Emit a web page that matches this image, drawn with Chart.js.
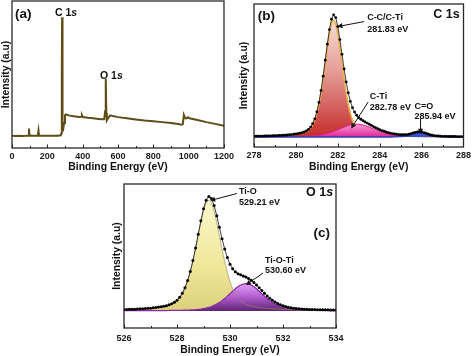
<!DOCTYPE html>
<html><head><meta charset="utf-8">
<script src="https://cdn.jsdelivr.net/npm/chart.js@4.4.0/dist/chart.umd.min.js"></script>
<style>
html,body{margin:0;padding:0;background:#fff;width:474px;height:356px;overflow:hidden;}
canvas{position:absolute;}
</style></head><body>
<canvas id="ca" width="237" height="173" style="left:0;top:0"></canvas>
<canvas id="cb" width="237" height="173" style="left:237px;top:0"></canvas>
<canvas id="cc" width="252" height="184" style="left:100px;top:172px"></canvas>
<script>
// ---------- (a) survey spectrum ----------
const SURVEY_BE = [0,20,40,60,80,92,96,99,110,130,146,150,153,170,200,230,260,276,280,282,283.5,285,287,290,295,300,306,320,350,380,392,396,400,430,460,490,515,522,527,529.5,532,534,537,545,556,570,600,650,700,750,800,850,900,940,960,967,973,978,985,991,997,1004,1050,1100,1150,1200];
const SURVEY_I = [8.3,8.2,8.3,8.2,8.3,8.4,13.2,8.6,8.4,8.3,8.4,11.8,8.5,8.3,8.3,8.3,8.4,8.6,10,50,89,60,14,13,17,22.3,22.8,22.2,21.6,21.1,21.3,22.2,21.1,20.6,20.2,19.8,19.5,19.5,25,47,47,24,18.8,20.5,22.2,21.7,21.0,20.2,19.4,18.7,18.2,17.6,17.0,16.3,15.8,16.3,22.4,20.8,20.1,20.5,20.9,20.2,19.0,17.6,16.4,15.2];
const SURVEY_TICKS = [0,200,400,600,800,1000,1200];

// ---------- (b) C 1s ----------
const C1S_BE = [278.0,278.1,278.2,278.3,278.4,278.5,278.6,278.7,278.8,278.9,279.0,279.1,279.2,279.3,279.4,279.5,279.6,279.7,279.8,279.9,280.0,280.1,280.2,280.3,280.4,280.5,280.6,280.7,280.8,280.9,281.0,281.1,281.2,281.3,281.4,281.5,281.6,281.7,281.8,281.9,282.0,282.1,282.2,282.3,282.4,282.5,282.6,282.7,282.8,282.9,283.0,283.1,283.2,283.3,283.4,283.5,283.6,283.7,283.8,283.9,284.0,284.1,284.2,284.3,284.4,284.5,284.6,284.7,284.8,284.9,285.0,285.1,285.2,285.3,285.4,285.5,285.6,285.7,285.8,285.9,286.0,286.1,286.2,286.3,286.4,286.5,286.6,286.7,286.8,286.9,287.0,287.1,287.2,287.3,287.4,287.5,287.6,287.7,287.8,287.9,288.0];
const C1S_RAW = [7.5,7.6,7.6,7.6,7.6,7.7,7.7,7.8,7.8,7.9,
 7.9,8.0,8.1,8.1,8.2,8.3,8.4,8.6,8.7,8.9,
 9.1,9.3,9.6,10.0,10.5,11.2,12.3,13.9,16.3,19.7,
 24.6,31.2,39.5,49.5,60.7,71.9,82.1,89.4,92.4,90.5,
 84.2,75.1,64.8,54.6,45.5,37.9,31.9,27.5,24.4,22.2,
 20.6,19.4,18.4,17.5,16.7,15.9,15.1,14.3,13.5,12.8,
 12.1,11.5,11.0,10.5,10.1,9.7,9.4,9.1,8.9,8.7,
 8.6,8.6,8.6,8.7,9.0,9.4,9.8,10.2,10.6,10.7,
 10.5,10.1,9.6,9.1,8.6,8.2,8.0,7.8,7.7,7.6,
 7.5,7.5,7.5,7.4,7.4,7.4,7.4,7.3,7.3,7.3,7.3];
const C1S_CC = [7.4,7.4,7.5,7.5,7.5,7.5,7.6,7.6,7.7,7.7,
 7.8,7.8,7.9,7.9,8.0,8.1,8.2,8.3,8.4,8.6,
 8.8,9.0,9.2,9.6,10.0,10.7,11.7,13.2,15.5,18.8,
 23.5,29.9,38.0,47.7,58.5,69.4,79.1,86.0,88.5,86.0,
 79.1,69.4,58.5,47.7,38.0,29.9,23.5,18.8,15.5,13.2,
 11.7,10.7,10.0,9.6,9.2,9.0,8.8,8.6,8.4,8.3,
 8.2,8.1,8.0,7.9,7.9,7.8,7.8,7.7,7.7,7.6,
 7.6,7.5,7.5,7.5,7.5,7.4,7.4,7.4,7.4,7.4,
 7.3,7.3,7.3,7.3,7.3,7.3,7.3,7.3,7.3,7.3,
 7.3,7.2,7.2,7.2,7.2,7.2,7.2,7.2,7.2,7.2,7.2];
const C1S_CTI = [7.1,7.1,7.1,7.1,7.1,7.1,7.1,7.1,7.1,7.2,
 7.2,7.2,7.2,7.2,7.2,7.2,7.2,7.2,7.3,7.3,
 7.3,7.3,7.4,7.4,7.5,7.5,7.6,7.7,7.8,7.9,
 8.1,8.3,8.5,8.8,9.2,9.5,10.0,10.4,10.9,11.5,
 12.1,12.7,13.3,13.9,14.5,15.0,15.4,15.7,15.9,16.0,
 15.9,15.7,15.4,15.0,14.5,13.9,13.3,12.7,12.1,11.5,
 10.9,10.4,10.0,9.5,9.2,8.8,8.5,8.3,8.1,7.9,
 7.8,7.7,7.6,7.5,7.5,7.4,7.4,7.3,7.3,7.3,
 7.3,7.2,7.2,7.2,7.2,7.2,7.2,7.2,7.2,7.2,
 7.1,7.1,7.1,7.1,7.1,7.1,7.1,7.1,7.1,7.1,7.1];
const C1S_CO = [7.0,7.0,7.0,7.0,7.0,7.0,7.0,7.0,7.0,7.0,
 7.0,7.0,7.0,7.0,7.0,7.0,7.0,7.0,7.0,7.0,
 7.0,7.0,7.0,7.0,7.0,7.0,7.0,7.0,7.0,7.0,
 7.0,7.0,7.0,7.0,7.0,7.0,7.0,7.0,7.0,7.0,
 7.0,7.0,7.0,7.0,7.0,7.0,7.0,7.0,7.0,7.0,
 7.0,7.0,7.0,7.0,7.0,7.0,7.0,7.0,7.0,7.0,
 7.0,7.0,7.0,7.0,7.0,7.0,7.0,7.1,7.1,7.2,
 7.2,7.3,7.5,7.7,8.1,8.5,9.0,9.5,9.9,10.0,
 9.9,9.5,9.0,8.5,8.1,7.7,7.5,7.3,7.2,7.2,
 7.1,7.1,7.0,7.0,7.0,7.0,7.0,7.0,7.0,7.0,7.0];
const C1S_TICKS = [278,280,282,284,286,288];

// ---------- (c) O 1s ----------
const O1S_BE = [526.0,526.1,526.2,526.3,526.4,526.5,526.6,526.7,526.8,526.9,527.0,527.1,527.2,527.3,527.4,527.5,527.6,527.7,527.8,527.9,528.0,528.1,528.2,528.3,528.4,528.5,528.6,528.7,528.8,528.9,529.0,529.1,529.2,529.3,529.4,529.5,529.6,529.7,529.8,529.9,530.0,530.1,530.2,530.3,530.4,530.5,530.6,530.7,530.8,530.9,531.0,531.1,531.2,531.3,531.4,531.5,531.6,531.7,531.8,531.9,532.0,532.1,532.2,532.3,532.4,532.5,532.6,532.7,532.8,532.9,533.0,533.1,533.2,533.3,533.4,533.5,533.6,533.7,533.8,533.9,534.0];
const O1S_RAW = [12.9,12.9,13.0,13.1,13.1,13.2,13.3,13.4,13.5,13.7,
 13.8,14.1,14.3,14.5,14.8,15.1,15.5,16.1,16.8,17.8,
 19.3,21.4,24.1,28.0,32.9,39.3,46.9,55.6,65.1,74.4,
 82.8,88.8,91.3,89.9,85.1,77.9,69.9,61.9,54.8,48.9,
 44.3,41.1,39.0,37.7,36.9,36.1,35.4,34.4,33.2,31.6,
 29.9,27.9,26.0,24.1,22.3,20.7,19.2,18.0,17.0,16.1,
 15.4,14.9,14.4,14.0,13.8,13.5,13.4,13.2,13.1,13.1,
 12.9,12.9,12.8,12.7,12.7,12.7,12.6,12.6,12.5,12.5,12.5];
const O1S_TIO = [12.7,12.7,12.8,12.9,12.9,13.0,13.1,13.2,13.3,13.5,
 13.6,13.8,14.0,14.2,14.5,14.8,15.2,15.7,16.4,17.4,
 18.9,20.9,23.6,27.4,32.3,38.6,46.1,54.7,64.0,73.1,
 81.2,86.8,88.8,86.8,81.2,73.1,64.0,54.7,46.1,38.6,
 32.3,27.4,23.6,20.9,18.9,17.4,16.4,15.7,15.2,14.8,
 14.5,14.2,14.0,13.8,13.6,13.5,13.3,13.2,13.1,13.0,
 12.9,12.9,12.8,12.7,12.7,12.6,12.6,12.5,12.5,12.5,
 12.4,12.4,12.4,12.3,12.3,12.3,12.3,12.3,12.2,12.2,12.2];
const O1S_TIOTI = [12.0,12.0,12.0,12.0,12.0,12.0,12.0,12.0,12.0,12.0,
 12.0,12.1,12.1,12.1,12.1,12.1,12.1,12.2,12.2,12.2,
 12.2,12.3,12.3,12.4,12.4,12.5,12.6,12.7,12.9,13.1,
 13.4,13.8,14.3,14.9,15.7,16.6,17.7,19.0,20.5,22.1,
 23.8,25.5,27.2,28.6,29.8,30.5,30.8,30.5,29.8,28.6,
 27.2,25.5,23.8,22.1,20.5,19.0,17.7,16.6,15.7,14.9,
 14.3,13.8,13.4,13.1,12.9,12.7,12.6,12.5,12.4,12.4,
 12.3,12.3,12.2,12.2,12.2,12.2,12.1,12.1,12.1,12.1,12.1];
const O1S_TICKS = [526,528,530,532,534];

// ---------- helpers ----------
const FONT = 'Arial, "Liberation Sans", Helvetica, sans-serif';
const pts = (xs, ys) => xs.map((x, i) => ({x, y: ys[i]}));

function vGrad(stops, vTop, vBot) {
  return (c) => {
    const ch = c.chart;
    if (!ch.chartArea) return stops[0][1];
    const y0 = ch.scales.y.getPixelForValue(vTop), y1 = ch.scales.y.getPixelForValue(vBot);
    const g = ch.ctx.createLinearGradient(0, y0, 0, y1);
    stops.forEach(s => g.addColorStop(s[0], s[1]));
    return g;
  };
}

const decor = {
  id: 'decor',
  afterDatasetsDraw(chart, args, o) {
    const {ctx, chartArea: a, scales: {x, y}} = chart;
    ctx.save();
    ctx.strokeStyle = '#222'; ctx.lineWidth = 1;
    const n = Math.round((x.max - x.min) / o.minor);
    for (let i = 0; i <= n; i++) {
      const v = x.min + i * o.minor;
      const px = Math.round(x.getPixelForValue(v)) + 0.5;
      const major = Math.abs(v / o.major - Math.round(v / o.major)) < 1e-6;
      ctx.beginPath(); ctx.moveTo(px, a.bottom); ctx.lineTo(px, a.bottom - (major ? 3.5 : 2)); ctx.stroke();
    }
    ctx.lineWidth = 1.3; ctx.strokeStyle = '#2a2a2a';
    ctx.strokeRect(a.left, a.top, a.right - a.left, a.bottom - a.top);
    ctx.fillStyle = '#111'; ctx.strokeStyle = '#111'; ctx.lineWidth = 1;
    (o.arrows || []).forEach(ar => {
      const x0 = x.getPixelForValue(ar.from[0]), y0 = y.getPixelForValue(ar.from[1]);
      const x1 = x.getPixelForValue(ar.to[0]), y1 = y.getPixelForValue(ar.to[1]);
      const ang = Math.atan2(y1 - y0, x1 - x0), L = 5, W = 2.6;
      ctx.beginPath(); ctx.moveTo(x0, y0); ctx.lineTo(x1 - Math.cos(ang) * L * 0.8, y1 - Math.sin(ang) * L * 0.8); ctx.stroke();
      ctx.beginPath();
      ctx.moveTo(x1, y1);
      ctx.lineTo(x1 - Math.cos(ang) * L + Math.sin(ang) * W, y1 - Math.sin(ang) * L - Math.cos(ang) * W);
      ctx.lineTo(x1 - Math.cos(ang) * L - Math.sin(ang) * W, y1 - Math.sin(ang) * L + Math.cos(ang) * W);
      ctx.closePath(); ctx.fill();
    });
    ctx.textBaseline = 'middle'; ctx.textAlign = 'left';
    (o.labels || []).forEach(lb => {
      const parts = lb.parts;
      const fonts = parts.map(p => `${p[1]} ${lb.size}px ${FONT}`);
      let w = 0;
      parts.forEach((p, i) => { ctx.font = fonts[i]; w += ctx.measureText(p[0]).width; });
      let px = x.getPixelForValue(lb.x);
      if (lb.align === 'right') px -= w;
      const py = y.getPixelForValue(lb.y);
      parts.forEach((p, i) => { ctx.font = fonts[i]; ctx.fillText(p[0], px, py); px += ctx.measureText(p[0]).width; });
    });
    ctx.restore();
  }
};

function makeChart(id, datasets, xr, ticks, pad, yW, xH, tickPad, yTitlePad, deco) {
  return new Chart(document.getElementById(id), {
    type: 'line',
    data: {datasets},
    options: {
      responsive: false, animation: false, devicePixelRatio: 1,
      layout: {padding: pad},
      plugins: {legend: {display: false}, tooltip: {enabled: false}, decor: deco},
      scales: {
        x: {type: 'linear', min: xr[0], max: xr[1],
          afterBuildTicks: s => { s.ticks = ticks.map(v => ({value: v})); },
          afterFit: s => { s.height = xH; },
          grid: {display: false, drawTicks: false}, border: {display: false},
          ticks: {padding: tickPad, color: '#1a1a1a', font: {family: FONT, size: 9, weight: 'bold'}, maxRotation: 0, autoSkip: false,
            callback: v => String(v)},
          title: {display: true, text: 'Binding Energy (eV)', color: '#111', padding: 0, font: {family: FONT, size: 10.4, weight: 'bold', lineHeight: 1.2}}},
        y: {min: 0, max: 100,
          afterFit: s => { s.width = yW; },
          grid: {display: false, drawTicks: false}, border: {display: false},
          ticks: {display: false},
          title: {display: true, text: 'Intensity (a.u)', color: '#111', padding: {top: yTitlePad, bottom: 0}, font: {family: FONT, size: 10.4, weight: 'bold', lineHeight: 1.2}}}
      }
    },
    plugins: [decor]
  });
}

// (a)
makeChart('ca', [
  {data: pts(SURVEY_BE, SURVEY_I), borderColor: '#5f4c17', borderWidth: 2, pointRadius: 0, tension: 0, fill: false}
], [0, 1200], SURVEY_TICKS, {left: 0, top: 1, right: 13, bottom: 0}, 12, 25, 3, 0, {
  major: 200, minor: 100,
  labels: [
    {parts: [['(a)', 'bold']], size: 13.5, x: 17, y: 91.2},
    {parts: [['C 1', 'bold'], ['s', 'italic bold']], size: 10.5, x: 243, y: 91.6},
    {parts: [['O 1', 'bold'], ['s', 'italic bold']], size: 10.5, x: 498, y: 49}
  ]
});

// (b)
makeChart('cb', [
  {data: pts(C1S_BE, C1S_RAW), borderColor: '#111', borderWidth: 0.8, pointRadius: 1.4, pointBackgroundColor: '#000', pointBorderWidth: 0, tension: 0, fill: false},
  {data: pts(C1S_BE, C1S_CO), borderColor: '#2a3fc0', borderWidth: 1.3, pointRadius: 0, tension: 0.3, fill: {value: 7}, backgroundColor: '#3552cc'},
  {data: pts(C1S_BE, C1S_CTI), borderColor: '#d8208a', borderWidth: 1, pointRadius: 0, tension: 0.3, fill: {value: 7},
    backgroundColor: vGrad([[0, '#f59ad0'], [1, '#e0279a']], 16, 7)},
  {data: pts(C1S_BE, C1S_CC), borderColor: '#eab04a', borderWidth: 1.6, pointRadius: 0, tension: 0.3, fill: {value: 7},
    backgroundColor: vGrad([[0, '#f6dcd4'], [0.45, '#e49a94'], [1, '#c62c2c']], 88, 7)}
], [278, 288], C1S_TICKS, {left: 0, top: 1, right: 9, bottom: 0}, 17, 26, 3, 0.5, {
  major: 2, minor: 1,
  labels: [
    {parts: [['(b)', 'bold']], size: 13.5, x: 278.18, y: 91.1},
    {parts: [['C 1s', 'bold']], size: 12.5, x: 287.82, y: 92.5, align: 'right'},
    {parts: [['C-C/C-Ti', 'bold']], size: 9, x: 283.4, y: 90.4},
    {parts: [['281.83 eV', 'bold']], size: 9, x: 283.4, y: 82.5},
    {parts: [['C-Ti', 'bold']], size: 9, x: 283.53, y: 35.6},
    {parts: [['282.78 eV', 'bold']], size: 9, x: 283.53, y: 27.7},
    {parts: [['C=O', 'bold']], size: 9, x: 285.66, y: 28.3},
    {parts: [['285.94 eV', 'bold']], size: 9, x: 285.66, y: 21.6}
  ],
  arrows: [
    {from: [283.26, 87.7], to: [281.98, 84.2]},
    {from: [283.45, 31.5], to: [282.64, 13.0]},
    {from: [285.95, 19.9], to: [285.95, 9.2]}
  ]
});

// (c)
makeChart('cc', [
  {data: pts(O1S_BE, O1S_RAW), borderColor: '#111', borderWidth: 0.8, pointRadius: 1.5, pointBackgroundColor: '#000', pointBorderWidth: 0, tension: 0, fill: false},
  {data: pts(O1S_BE, O1S_TIO), borderColor: 'rgba(150,140,90,0.8)', borderWidth: 0.8, pointRadius: 0, tension: 0.3, fill: false},
  {data: pts(O1S_BE, O1S_TIOTI), borderColor: '#8a2aa8', borderWidth: 1.2, pointRadius: 0, tension: 0.3, fill: {value: 11.8},
    backgroundColor: vGrad([[0, '#e3a2f4'], [0.5, '#b15cd0'], [1, '#5e2472']], 31, 11.8)},
  {data: pts(O1S_BE, O1S_TIO), borderColor: 'rgba(0,0,0,0)', borderWidth: 0, pointRadius: 0, tension: 0.3, fill: {value: 11.8},
    backgroundColor: vGrad([[0, '#faf7cc'], [0.6, '#f0e79a'], [1, '#dcd07a']], 89, 11.8)}
], [526, 534], O1S_TICKS, {left: 10, top: 12, right: 16, bottom: 0}, 14, 28, 5, 0.5, {
  major: 2, minor: 1,
  labels: [
    {parts: [['Ti-O', 'bold']], size: 9, x: 530.34, y: 95.1},
    {parts: [['529.21 eV', 'bold']], size: 9, x: 530.34, y: 87.2},
    {parts: [['O 1', 'bold'], ['s', 'italic bold']], size: 12.5, x: 533.89, y: 94.4, align: 'right'},
    {parts: [['(c)', 'bold']], size: 13.5, x: 533.77, y: 66, align: 'right'},
    {parts: [['Ti-O-Ti', 'bold']], size: 9, x: 531.32, y: 46.9},
    {parts: [['530.60 eV', 'bold']], size: 9, x: 531.32, y: 39.6}
  ],
  arrows: [
    {from: [530.26, 93.4], to: [529.25, 88.5]},
    {from: [531.25, 38.2], to: [530.6, 29.9]}
  ]
});
</script>
</body></html>
